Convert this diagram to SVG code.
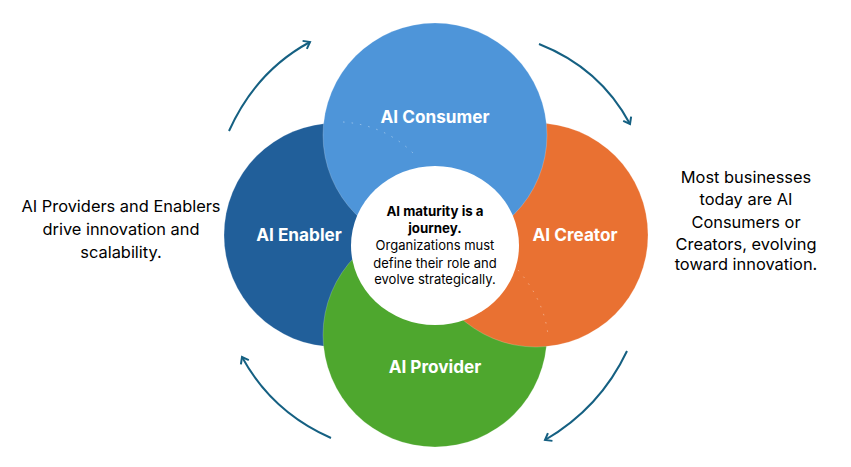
<svg xmlns="http://www.w3.org/2000/svg" width="851" height="467" viewBox="0 0 851 467">
<style>
text{font-family:Inter,"Liberation Sans",sans-serif;text-anchor:middle}
.lab{font-size:17.2px;font-weight:700;fill:#fff}
.side{font-size:16.4px;fill:#000}
.c{font-size:13px;fill:#000}
.b{font-size:13.3px;font-weight:700}
.arc{fill:none;stroke:#156082;stroke-width:2;marker-end:url(#a)}
.seam{fill:none;stroke:#fff;stroke-width:1;stroke-dasharray:1.5 7;opacity:.4}
circle{stroke:#fff;stroke-opacity:.4;stroke-width:.5}
</style>
<defs><marker id="a" markerUnits="userSpaceOnUse" markerWidth="14" markerHeight="14" refX="10" refY="6" orient="auto"><path d="M4 1.500 10 6 4 10.500" fill="none" stroke="#156082" stroke-width="2"/></marker></defs>
<rect width="851" height="467" fill="#fff"/>
<g id="node-enabler"><circle cx="336" cy="235" r="112" fill="#215f9a"/><text class="lab" x="299" y="241">AI Enabler</text></g>
<g id="node-provider"><circle cx="435" cy="335" r="112" fill="#4ea72e"/><text class="lab" x="435" y="373">AI Provider</text></g>
<g id="node-creator"><circle cx="536" cy="235" r="112" fill="#e97132"/><text class="lab" x="575" y="241">AI Creator</text><path class="seam" d="M518 270Q544 300 548 335"/></g>
<g id="node-consumer"><circle cx="435" cy="135" r="112" fill="#4e95d9"/><text class="lab" x="435" y="123">AI Consumer</text><path class="seam" d="M343 122Q385 125 414 154"/></g>
<g id="node-center"><ellipse cx="435" cy="245.500" rx="84" ry="79.500" fill="#fff"/>
<text class="c b" x="435" y="216">AI maturity is a</text><text class="c b" x="435" y="233">journey.</text><text class="c" x="435" y="250">Organizations must</text><text class="c" x="435" y="268">define their role and</text><text class="c" x="435" y="284">evolve strategically.</text></g>
<g id="connectors">
<path class="arc" d="M229 131Q256 71 310 42"/>
<path class="arc" d="M539 44Q600 68 630 124"/>
<path class="arc" d="M627 351Q600 408 545 440"/>
<path class="arc" d="M331 438Q272 412 242 357"/>
</g>
<g id="note-left"><text class="side" x="121" y="212">AI Providers and Enablers</text><text class="side" x="121" y="235">drive innovation and</text><text class="side" x="121" y="258">scalability.</text></g>
<g id="note-right"><text class="side" x="746" y="183">Most businesses</text><text class="side" x="746" y="205">today are AI</text><text class="side" x="746" y="228">Consumers or</text><text class="side" x="746" y="250">Creators, evolving</text><text class="side" x="746" y="270">toward innovation.</text></g>
</svg>
